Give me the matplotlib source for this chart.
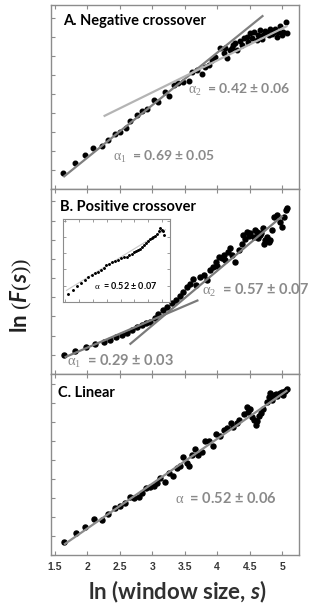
import matplotlib
matplotlib.use("Agg")
import matplotlib.pyplot as plt
from matplotlib.ticker import MultipleLocator
import numpy as np

plt.rcParams['mathtext.fontset'] = 'custom'
plt.rcParams['mathtext.rm'] = 'Liberation Serif'
plt.rcParams['mathtext.it'] = 'Lato:italic:bold'
plt.rcParams['mathtext.bf'] = 'Lato:bold'

###################################################################
# DATA (ln window size vs ln F(s))
# Panel A - negative crossover
a_x = [1.63, 1.81, 1.96, 2.09, 2.22, 2.32, 2.43, 2.50, 2.60, 2.66, 2.76, 2.84, 2.92, 3.02,
       3.09, 3.20, 3.26, 3.33, 3.40, 3.48, 3.56, 3.61, 3.69, 3.76, 3.81, 3.87, 3.92, 3.97,
       4.05, 4.10, 4.15, 4.20, 4.25, 4.30, 4.35, 4.41, 4.46, 4.51, 4.56, 4.61, 4.66, 4.71,
       4.77, 4.82, 4.87, 4.92, 4.97, 5.02, 5.06, 5.08, 4.38, 4.48, 4.53, 4.63, 4.69, 4.74,
       4.79, 4.84, 4.89, 4.94, 4.99, 4.12, 4.22, 4.28]
a_y = [0.21, 0.34, 0.45, 0.54, 0.56, 0.64, 0.73, 0.75, 0.80, 0.89, 0.97, 1.02, 1.05, 1.17,
       1.15, 1.28, 1.22, 1.37, 1.39, 1.41, 1.42, 1.54, 1.57, 1.51, 1.61, 1.63, 1.70, 1.74,
       1.85, 1.79, 1.72, 1.83, 1.89, 1.83, 1.94, 1.98, 2.00, 2.05, 2.07, 1.96, 2.09, 2.03,
       2.05, 2.11, 2.07, 2.00, 2.14, 2.07, 2.20, 2.05, 1.90, 1.93, 1.99, 2.02, 1.97, 2.08,
       2.02, 2.04, 2.10, 2.06, 2.02, 1.86, 1.86, 1.92]
a_slope = [0.69, 0.42]
a_icpt = [-0.967, 0.011]
a_xrange = [[1.63, 4.71], [2.25, 5.08]]

# Panel B - positive crossover
b_x = [1.64, 1.81, 1.98, 2.12, 2.25, 2.35, 2.44, 2.53, 2.61, 2.68, 2.76, 2.84, 2.90, 2.97,
       3.04, 3.09, 3.17, 3.23, 3.30, 3.37, 3.43, 3.48, 3.53, 3.58, 3.63, 3.68, 3.73, 3.79,
       3.84, 3.89, 3.94, 3.98, 4.02, 4.07, 4.12, 4.17, 4.23, 4.28, 4.33, 4.38, 4.42, 4.46,
       4.51, 4.56, 4.61, 4.66, 4.70, 4.74, 4.79, 4.84, 4.87, 4.92, 4.96, 4.99, 5.03, 5.06,
       5.08, 4.40, 4.49, 4.58, 4.63, 4.68, 4.72, 4.76, 4.81, 4.00, 4.10, 4.20]
b_y = [0.20, 0.24, 0.28, 0.31, 0.33, 0.35, 0.39, 0.41, 0.43, 0.46, 0.49, 0.51, 0.53, 0.54,
       0.58, 0.63, 0.67, 0.70, 0.74, 0.77, 0.81, 0.86, 0.91, 0.94, 0.99, 0.93, 1.01, 1.03,
       0.98, 1.08, 1.12, 1.17, 1.22, 1.21, 1.19, 1.27, 1.24, 1.17, 1.29, 1.36, 1.41, 1.48,
       1.47, 1.43, 1.48, 1.45, 1.52, 1.40, 1.38, 1.50, 1.64, 1.66, 1.59, 1.53, 1.64, 1.71,
       1.73, 1.45, 1.44, 1.50, 1.42, 1.47, 1.36, 1.43, 1.40, 1.13, 1.24, 1.31]
b_slope = [0.29, 0.57]
b_icpt = [-0.305, -1.203]
b_xrange = [[1.65, 3.71], [2.65, 5.01]]

# inset of panel B
in_x = [1.60, 1.78, 1.91, 2.08, 2.20, 2.32, 2.45, 2.56, 2.67, 2.78, 2.89, 2.99, 3.07, 3.18,
        3.29, 3.40, 3.51, 3.62, 3.72, 3.80, 3.91, 3.99, 4.06, 4.13, 4.20, 4.28, 4.35, 4.42,
        4.50, 4.57, 4.64, 4.69, 4.75, 4.83, 4.90, 4.94, 4.99, 5.04, 5.08]
in_y = [0.24, 0.38, 0.48, 0.58, 0.67, 0.75, 0.82, 0.88, 0.93, 0.99, 1.05, 1.13, 1.16, 1.22,
        1.25, 1.30, 1.34, 1.38, 1.38, 1.44, 1.48, 1.53, 1.56, 1.61, 1.64, 1.70, 1.74, 1.81,
        1.87, 1.93, 1.96, 2.00, 2.02, 2.08, 2.18, 2.26, 2.21, 2.18, 2.05]
in_slope = 0.52
in_icpt = -0.447
in_xrange = [1.54, 5.13]

# Panel C - linear
c_x = [1.64, 1.82, 1.97, 2.10, 2.22, 2.32, 2.43, 2.50, 2.58, 2.66, 2.72, 2.79, 2.84, 2.90,
       2.97, 3.03, 3.07, 3.12, 3.20, 3.25, 3.32, 3.38, 3.43, 3.48, 3.53, 3.57, 3.61, 3.66,
       3.71, 3.76, 3.81, 3.87, 3.93, 3.98, 4.05, 4.10, 4.15, 4.21, 4.25, 4.30, 4.34, 4.41,
       4.46, 4.51, 4.56, 4.60, 4.64, 4.67, 4.71, 4.77, 4.82, 4.87, 4.92, 4.96, 5.01, 5.05,
       5.08, 4.48, 4.53, 4.62, 4.79, 4.85, 4.90, 4.99]
c_y = [0.15, 0.25, 0.33, 0.42, 0.41, 0.48, 0.54, 0.57, 0.60, 0.67, 0.66, 0.67, 0.72, 0.78,
       0.79, 0.80, 0.83, 0.89, 0.85, 0.95, 0.92, 1.01, 1.03, 1.14, 1.07, 1.03, 1.16, 1.23,
       1.16, 1.20, 1.32, 1.32, 1.26, 1.40, 1.38, 1.45, 1.47, 1.53, 1.49, 1.53, 1.57, 1.63,
       1.72, 1.69, 1.57, 1.51, 1.61, 1.65, 1.69, 1.78, 1.88, 1.86, 1.84, 1.88, 1.86, 1.90,
       1.92, 1.66, 1.60, 1.55, 1.83, 1.80, 1.87, 1.89]
c_slope = [0.52]
c_icpt = [-0.732]
c_xrange = [[1.64, 5.08]]

x_ticks = [1.5, 2, 2.5, 3, 3.5, 4, 4.5, 5]
x_ticklabels = ['1.5', '2', '2.5', '3', '3.5', '4', '4.5', '5']
###################################################################

spine_col = '#8c8c8c'
lbl_col = '#8a8a8a'
font = 'Lato'

fig = plt.figure(figsize=(3.12, 6.07), dpi=100)

left, width = 0.1635, 0.795
boxes = [(0.6886, 0.3032), (0.3839, 0.3047), (0.0857, 0.2982)]
ylims = [2.42, 1.93, 2.10]
ysteps = [0.25, 0.2, 0.22]

axes = []
for (bot, h), ymax, ystep in zip(boxes, ylims, ysteps):
    ax = fig.add_axes([left, bot, width, h])
    ax.set_xlim(1.44, 5.26)
    ax.set_ylim(0, ymax)
    ax.set_xticks(x_ticks)
    ax.yaxis.set_major_locator(MultipleLocator(ystep))
    ax.tick_params(direction='in', length=3, width=0.8, color=spine_col,
                   top=True, bottom=True, left=True, right=False,
                   labelleft=False, labelbottom=False)
    for s in ax.spines.values():
        s.set_color(spine_col)
        s.set_linewidth(1.0)
    axes.append(ax)

ax_a, ax_b, ax_c = axes

def draw_fits(ax, slopes, icpts, xranges, colors):
    for m, b, xr, c in zip(slopes, icpts, xranges, colors):
        xx = np.array(xr)
        ax.plot(xx, m * xx + b, color=c, lw=1.6, zorder=3, solid_capstyle='butt')

def alpha_label(ax, x, y, sub, value, size, color=lbl_col, **kw):
    ax.text(x, y, r'$\mathrm{\alpha_{%s}}$' % sub + '  = ' + value, fontsize=size,
            fontweight='bold', family=font, color=color, va='center', **kw)

# ---- A
ax_a.plot(a_x, a_y, 'o', color='black', ms=3.3, zorder=2)
draw_fits(ax_a, a_slope, a_icpt, a_xrange, ['#808080', '#b4b4b4'])
ax_a.text(0.048, 0.913, 'A. Negative crossover', transform=ax_a.transAxes,
          fontsize=10.5, fontweight='bold', family=font, va='center', ha='left')
alpha_label(ax_a, 3.55, 1.30, '2', '0.42 ± 0.06', 10)
alpha_label(ax_a, 2.40, 0.42, '1', '0.69 ± 0.05', 10)

# ---- B
ax_b.plot(b_x, b_y, 'o', color='black', ms=3.6, zorder=2)
draw_fits(ax_b, b_slope, b_icpt, b_xrange, ['#7a7a7a', '#7a7a7a'])
ax_b.text(0.036, 0.903, 'B. Positive crossover', transform=ax_b.transAxes,
          fontsize=10.5, fontweight='bold', family=font, va='center', ha='left')
alpha_label(ax_b, 3.76, 0.875, '2', '0.57 ± 0.07', 10.5)
alpha_label(ax_b, 1.68, 0.135, '1', '0.29 ± 0.03', 10.5)

ins = ax_b.inset_axes([0.047, 0.39, 0.433, 0.446])
ins.plot(in_x, in_y, 'o', color='black', ms=1.1, zorder=2)
xx = np.array(in_xrange)
ins.plot(xx, in_slope * xx + in_icpt, color='#c8c8c8', lw=0.8, zorder=1)
ins.set_xlim(1.4, 5.3)
ins.set_ylim(0, 2.54)
ins.xaxis.set_major_locator(MultipleLocator(0.5))
ins.yaxis.set_major_locator(MultipleLocator(0.5))
ins.tick_params(direction='in', length=2, width=0.6, color=spine_col, top=True,
                right=True, labelleft=False, labelbottom=False)
for s in ins.spines.values():
    s.set_color(spine_col)
    s.set_linewidth(0.8)
ins.text(2.52, 0.51, r'$\mathrm{\alpha}$' + '  = 0.52 ± 0.07', fontsize=6.5,
         fontweight='bold', family=font, color='black', va='center')

# ---- C
ax_c.plot(c_x, c_y, 'o', color='black', ms=3.6, zorder=2)
draw_fits(ax_c, c_slope, c_icpt, c_xrange, ['#8c8c8c'])
ax_c.text(0.028, 0.895, 'C. Linear', transform=ax_c.transAxes,
          fontsize=10.5, fontweight='bold', family=font, va='center', ha='left')
ax_c.text(3.35, 0.66, r'$\mathrm{\alpha}$' + '  = 0.52 ± 0.06', fontsize=10.5,
          fontweight='bold', family=font, color=lbl_col, va='center')

ax_c.tick_params(labelbottom=True, pad=5)
ax_c.set_xticklabels(x_ticklabels, fontsize=7.5, fontweight='bold',
                     family='Liberation Sans', color='#383838')

fig.text(0.57, 0.025, r'ln (window size, $\mathit{s}$)', ha='center', va='center',
         fontsize=16, fontweight='bold', family=font, color='#303030')
fig.text(0.07, 0.513, r'ln $\mathit{(F(s))}$', ha='center', va='center', rotation=90,
         fontsize=16, fontweight='bold', family=font, color='#202020')

fig.savefig('out.png', dpi=100)
